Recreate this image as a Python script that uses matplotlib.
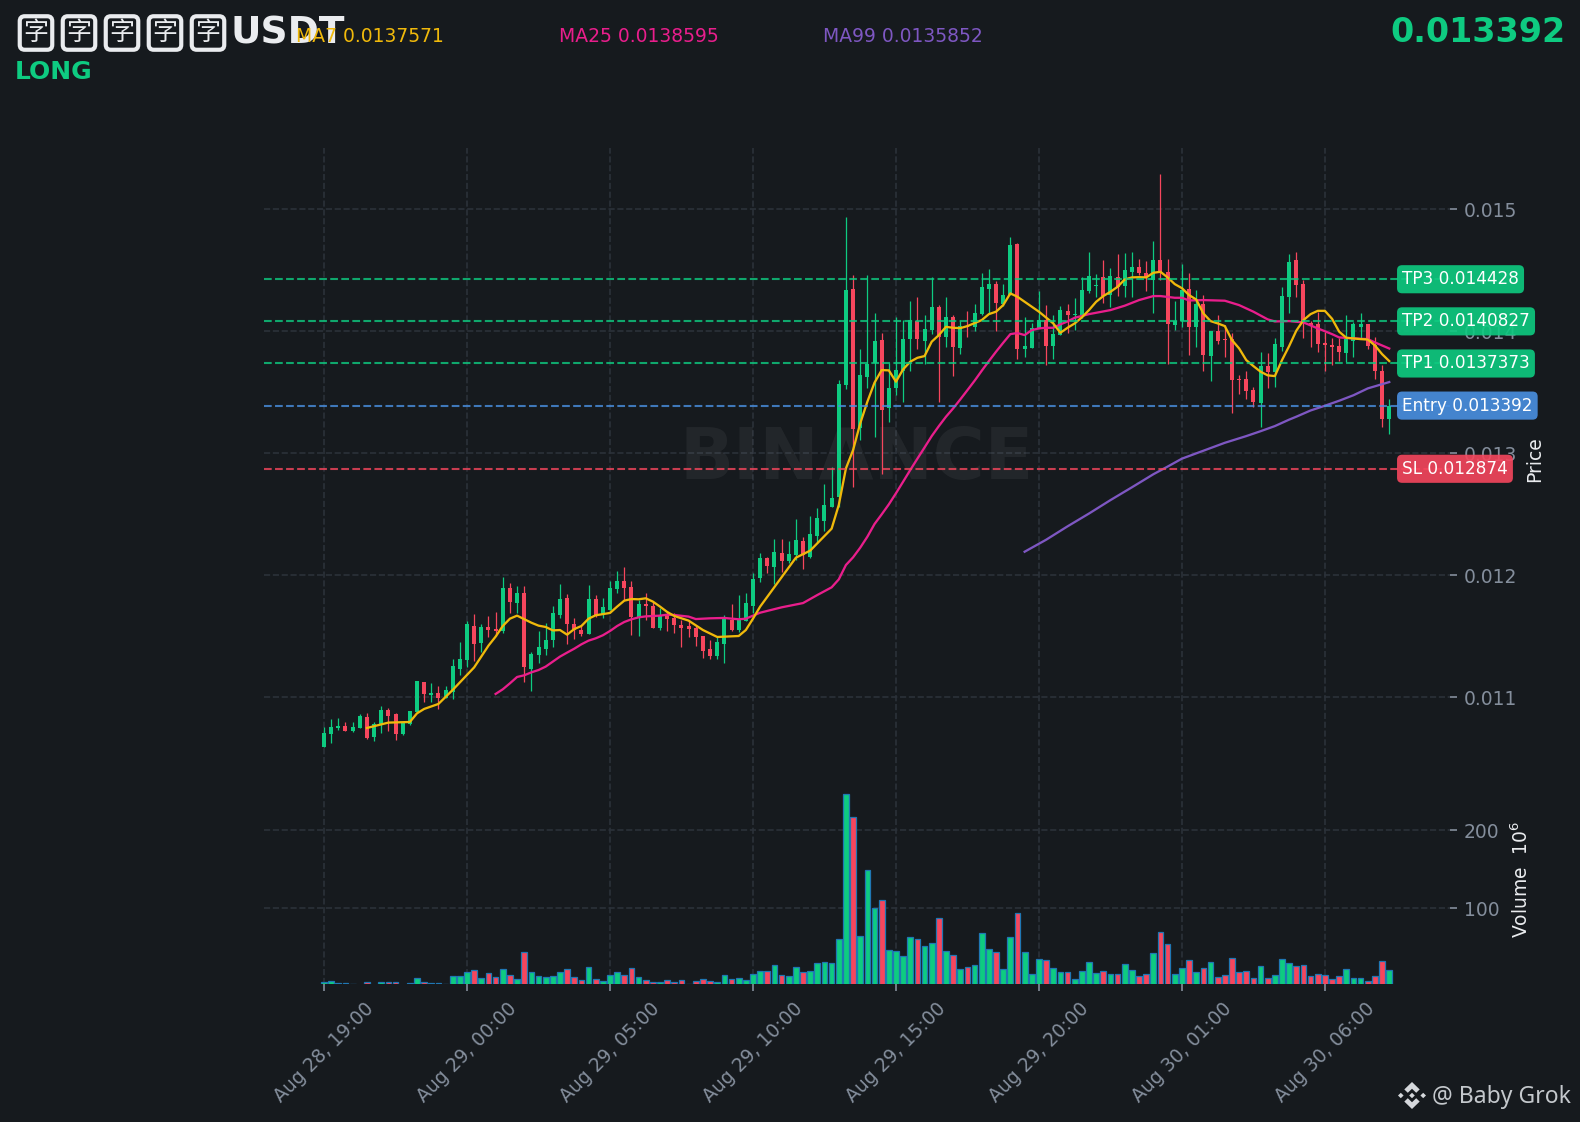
import numpy as np
import matplotlib
matplotlib.use("Agg")
import matplotlib.pyplot as plt
from matplotlib.patches import Polygon

# prices are in millionths, volume in units of 1e6
opens = [10586, 10696, 10745, 10758, 10717, 10745, 10832, 10671, 10778, 10890,
         10857, 10693, 10778, 10873, 11119, 11015, 11029, 10985, 11037, 11226,
         11299, 11578, 11439, 11570, 11553, 11537, 11890, 11767, 11849, 11223,
         11340, 11390, 11463, 11668, 11808, 11594, 11545, 11512, 11799, 11668,
         11709, 11881, 11947, 11898, 11655, 11758, 11742, 11562, 11668, 11644,
         11586, 11578, 11562, 11496, 11390, 11332, 11431, 11627, 11545, 11619,
         11742, 11971, 12132, 12064, 12173, 12113, 12157, 12272, 12146, 12318,
         12441, 12556, 12632, 13553, 14337, 13198, 13622, 13731, 13919, 13367,
         13531, 13671, 13930, 14075, 13917, 14004, 14190, 13949, 14108, 13859,
         14040, 14031, 14135, 14343, 14378, 14222, 14291, 14709, 13849, 13857,
         14018, 14083, 13873, 13966, 14160, 14124, 14113, 14327, 14362, 14436,
         14291, 14436, 14365, 14479, 14520, 14471, 14414, 14578, 14479, 14045,
         14075, 14340, 14029, 14222, 13794, 13996, 13930, 13930, 13600, 13602,
         13512, 13405, 13709, 13657, 13867, 14277, 14578, 14381, 14064, 14053,
         13898, 13878, 13873, 13818, 13917, 14029, 14053, 13878, 13668, 13277]
closes = [10701, 10750, 10758, 10717, 10750, 10840, 10660, 10775, 10890, 10840,
          10693, 10786, 10879, 11127, 11023, 11026, 10988, 11054, 11250, 11308,
          11594, 11433, 11570, 11545, 11540, 11890, 11775, 11849, 11242, 11349,
          11406, 11463, 11685, 11799, 11594, 11545, 11512, 11799, 11668, 11734,
          11890, 11947, 11890, 11652, 11758, 11745, 11562, 11660, 11635, 11586,
          11564, 11556, 11488, 11373, 11332, 11447, 11635, 11545, 11627, 11767,
          11963, 12132, 12072, 12182, 12113, 12165, 12280, 12157, 12329, 12460,
          12567, 12624, 13561, 14332, 13195, 13633, 13725, 13911, 13351, 13529,
          13674, 13928, 14083, 13933, 14010, 14190, 13944, 14108, 13867, 14034,
          14031, 14141, 14354, 14378, 14225, 14288, 14701, 13849, 13870, 14021,
          14086, 13873, 13971, 14165, 14127, 14133, 14332, 14447, 14370, 14283,
          14447, 14359, 14493, 14520, 14471, 14436, 14578, 14479, 14056, 14075,
          14332, 14029, 14222, 13799, 13996, 13914, 13925, 13594, 13594, 13504,
          13414, 13709, 13657, 13889, 14283, 14561, 14373, 14059, 14048, 13889,
          13884, 13865, 13824, 13936, 14053, 14053, 13876, 13671, 13277, 13385]
highs = [10748, 10813, 10821, 10789, 10794, 10854, 10862, 10794, 10920, 10903,
         10862, 10794, 10884, 11127, 11119, 11108, 11086, 11086, 11305, 11444,
         11619, 11674, 11592, 11660, 11693, 11977, 11931, 11903, 11903, 11368,
         11534, 11600, 11742, 11922, 11840, 11641, 11578, 11914, 11832, 11808,
         11947, 12026, 12059, 11944, 11791, 11849, 11778, 11723, 11701, 11682,
         11627, 11627, 11584, 11496, 11463, 11485, 11666, 11756, 11835, 11846,
         12015, 12173, 12141, 12288, 12288, 12277, 12457, 12310, 12482, 12548,
         12739, 12878, 13594, 14933, 14458, 13851, 14458, 14146, 13982, 13731,
         14113, 14086, 14244, 14272, 14130, 14436, 14206, 14277, 14127, 14081,
         14162, 14214, 14469, 14507, 14406, 14378, 14764, 14715, 14113, 14064,
         14326, 14212, 14130, 14198, 14217, 14264, 14436, 14641, 14460, 14578,
         14510, 14627, 14633, 14641, 14583, 14572, 14731, 15280, 14583, 14239,
         14545, 14474, 14332, 14288, 13996, 14124, 14045, 13982, 13635, 13665,
         13539, 13821, 13813, 13936, 14354, 14624, 14641, 14414, 14075, 14152,
         13991, 13936, 13941, 14124, 14070, 14146, 14053, 13944, 13720, 13436]
lows = [10586, 10622, 10726, 10717, 10712, 10739, 10655, 10638, 10704, 10720,
        10647, 10682, 10769, 10873, 10958, 10958, 10901, 10985, 10983, 11179,
        11245, 11294, 11368, 11491, 11496, 11518, 11687, 11682, 11122, 11048,
        11278, 11340, 11403, 11646, 11431, 11469, 11496, 11512, 11655, 11644,
        11709, 11846, 11791, 11504, 11496, 11627, 11562, 11545, 11537, 11523,
        11409, 11491, 11414, 11319, 11305, 11310, 11272, 11537, 11532, 11619,
        11685, 11941, 12009, 11922, 12023, 12091, 12119, 12048, 12138, 12255,
        12359, 12550, 12556, 13518, 12714, 13102, 13526, 13124, 12824, 13250,
        13471, 13414, 13665, 13851, 13723, 13971, 13411, 13867, 13630, 13805,
        13944, 13999, 14127, 14141, 13999, 14201, 14291, 13764, 13786, 13857,
        14018, 13715, 13769, 13960, 13977, 14004, 14100, 14305, 14277, 14228,
        14195, 14283, 14277, 14277, 14455, 14327, 14146, 14414, 13725, 14004,
        14031, 13799, 13867, 13671, 13589, 13889, 13780, 13321, 13479, 13441,
        13375, 13206, 13526, 13534, 13835, 14141, 14272, 13941, 13862, 13827,
        13671, 13717, 13747, 13742, 13780, 13936, 13846, 13600, 13206, 13149]
volumes = [4.7, 6.4, 3.4, 3.4, 2.6, 1.7, 5.1, 1.7, 5.1, 5.1,
           5.1, 1.7, 3.9, 10.3, 5.1, 3.9, 3.9, 2.6, 12.9, 12.9,
           18, 20.6, 10.3, 16.7, 11.6, 21.9, 14.2, 9, 43.8, 18,
           12.9, 11.6, 12.9, 18, 21.9, 11.6, 7.7, 24.5, 9, 6.4,
           14.2, 18, 14.2, 23.2, 11.6, 7.7, 5.1, 5.1, 7.7, 5.1,
           7.7, 2.6, 6.4, 9, 6.4, 5.1, 14.2, 9, 10.3, 7.7,
           15.4, 19.3, 19.3, 27, 14.2, 12.9, 24.5, 18, 19.3, 29.6,
           30.9, 29.6, 60.5, 245.8, 217, 64.4, 149, 100, 110.7, 46.3,
           45, 38.6, 63, 60.5, 51.5, 55.3, 87.5, 45, 39.9, 21.9,
           24.5, 27, 68.2, 47.6, 43.8, 21.9, 63, 94, 43.8, 15.4,
           34.7, 33.5, 23.2, 18, 18, 9, 19.3, 30.9, 16.7, 19.3,
           15.4, 15.4, 28.3, 20.6, 12.9, 15.4, 42.5, 69.5, 54, 15.4,
           23.2, 33.5, 18, 23.2, 30.9, 11.6, 14.2, 36, 18, 19.3,
           10.3, 25.7, 10.3, 14.2, 34.7, 29.6, 25.7, 27, 12.9, 15.4,
           14.2, 9, 12.9, 21.9, 10.3, 10.3, 6.4, 12.9, 32.2, 20.6]

ma7_idx = [6, 9, 12, 13, 14, 16, 18, 21, 23, 24, 25, 26, 27, 29, 30, 31, 32, 33, 34, 35,
           36, 37, 38, 40, 41, 42, 43, 44, 45, 46, 47, 48, 49, 51, 53, 55, 58, 59, 60, 61,
           66, 68, 69, 70, 71, 72, 73, 74, 75, 76, 77, 78, 79, 80, 81, 82, 83, 84, 85, 86,
           87, 88, 89, 90, 92, 93, 94, 95, 96, 97, 100, 102, 103, 104, 105, 106, 107, 108, 109, 110,
           111, 112, 113, 114, 115, 116, 117, 118, 119, 120, 121, 122, 123, 124, 125, 126, 127, 128, 129, 130,
           131, 132, 133, 134, 135, 136, 137, 138, 139, 140, 141, 142, 143, 144, 145, 146, 147, 148, 149]
ma7_val = [10742, 10786, 10791, 10862, 10898, 10939, 11054, 11239, 11417, 11491, 11578, 11638, 11663, 11605, 11581, 11570, 11542, 11545, 11507, 11553,
           11578, 11638, 11666, 11685, 11737, 11786, 11799, 11797, 11805, 11778, 11737, 11693, 11660, 11622, 11545, 11488, 11496, 11545, 11638, 11737,
           12138, 12196, 12256, 12316, 12376, 12570, 12870, 13020, 13239, 13417, 13573, 13676, 13674, 13581, 13682, 13745, 13777, 13791, 13909, 13963,
           14031, 14023, 14020, 14037, 14086, 14135, 14155, 14209, 14305, 14277, 14155, 14059, 13982, 14023, 14059, 14108, 14168, 14236, 14283, 14318,
           14359, 14419, 14436, 14438, 14436, 14474, 14482, 14436, 14381, 14348, 14291, 14255, 14141, 14078, 14059, 14037, 13922, 13854, 13758, 13709,
           13663, 13633, 13627, 13758, 13873, 13999, 14086, 14135, 14162, 14162, 14097, 13991, 13941, 13936, 13930, 13927, 13878, 13807, 13750]
ma25_idx = [24, 25, 26, 27, 28, 29, 30, 31, 32, 33, 34, 35, 36, 37, 38, 39, 40, 41, 42, 43,
            44, 45, 47, 48, 49, 51, 52, 54, 56, 58, 59, 60, 61, 64, 67, 69, 71, 72, 73, 74,
            75, 76, 77, 78, 79, 80, 81, 82, 83, 84, 85, 86, 87, 88, 89, 90, 91, 92, 93, 94,
            95, 96, 97, 98, 99, 100, 101, 102, 103, 104, 105, 107, 110, 112, 114, 116, 117, 119, 120, 121,
            123, 126, 128, 130, 132, 133, 135, 137, 139, 141, 142, 144, 146, 147, 149]
ma25_val = [11021, 11059, 11108, 11160, 11174, 11198, 11217, 11245, 11286, 11327, 11360, 11392, 11428, 11458, 11477, 11502, 11537, 11578, 11611, 11633,
            11649, 11657, 11663, 11671, 11668, 11655, 11635, 11641, 11644, 11633, 11638, 11663, 11687, 11731, 11766, 11832, 11895, 11960, 12078, 12141,
            12220, 12310, 12414, 12493, 12575, 12666, 12761, 12857, 12950, 13042, 13135, 13217, 13294, 13362, 13436, 13512, 13589, 13671, 13750, 13827,
            13900, 13971, 13980, 13963, 14004, 14018, 14023, 14023, 14051, 14075, 14105, 14135, 14168, 14204, 14250, 14283, 14283, 14269, 14269, 14247,
            14250, 14245, 14209, 14155, 14092, 14075, 14078, 14067, 14018, 13971, 13944, 13936, 13930, 13903, 13853]
ma99_idx = [98, 101, 104, 107, 110, 113, 116, 118, 120, 123, 126, 129, 131, 133, 135, 136, 138, 140, 142, 144, 146, 149]
ma99_val = [12187, 12285, 12395, 12500, 12610, 12715, 12822, 12885, 12950, 13015, 13080, 13135, 13175, 13217, 13270, 13294, 13345, 13384, 13425, 13470, 13526, 13578]

# the readings above came out a little low against the known level lines
READ_OFFSET = 7

level_names = ["TP3", "TP2", "TP1", "Entry", "SL"]
level_texts = ["0.014428", "0.0140827", "0.0137373", "0.013392", "0.012874"]
level_prices = [0.014428, 0.0140827, 0.0137373, 0.013392, 0.012874]
level_colors = ["#0ecb81", "#0ecb81", "#0ecb81", "#4a90e2", "#f6465d"]

price_ticks = [0.011, 0.012, 0.013, 0.014, 0.015]
volume_ticks = [100, 200]
time_pos = [0, 20, 40, 60, 80, 100, 120, 140]
time_labels = ["Aug 28, 19:00", "Aug 29, 00:00", "Aug 29, 05:00", "Aug 29, 10:00",
               "Aug 29, 15:00", "Aug 29, 20:00", "Aug 30, 01:00", "Aug 30, 06:00"]

BG = "#161a1e"
GREEN = "#0ecb81"
RED = "#f6465d"
GRID = "#2b3139"
GRAY = "#848e9c"
LIGHT = "#eaecef"

W, H = 1581, 1122


def fx(px):
    return px / W


def fy(py):
    return 1 - py / H


def to_price(vals):
    return (np.array(vals) + READ_OFFSET) * 1e-6


fig = plt.figure(figsize=(W / 150, H / 150), dpi=150, facecolor=BG)
ax = fig.add_axes([fx(264), fy(772), fx(1450 - 264), (772 - 148) / H])
ax_vol = fig.add_axes([fx(264), fy(984), fx(1450 - 264), (984 - 772) / H], sharex=ax)

o = to_price(opens)
c = to_price(closes)
h = to_price(highs)
l = to_price(lows)
x = np.arange(len(o))
colors = [GREEN if cl >= op else RED for op, cl in zip(o, c)]

ax.vlines(x, l, h, colors=colors, linewidth=0.6, zorder=3)
ax.bar(x, np.abs(c - o), bottom=np.minimum(o, c), width=0.56, color=colors, linewidth=0, zorder=3)

ax.plot(ma25_idx, to_price(ma25_val), color="#e91e8c", lw=1.1, zorder=4)
ax.plot(ma99_idx, to_price(ma99_val), color="#7e57c2", lw=1.1, zorder=4)
ax.plot(ma7_idx, to_price(ma7_val), color="#f0b90b", lw=1.1, zorder=4)

for name, txt, price, col in zip(level_names, level_texts, level_prices, level_colors):
    ax.axhline(price, color=col, ls="--", lw=1.0, alpha=0.8, zorder=5)
    ax.text(150.8, price, name + " " + txt, color="white", fontsize=8.1, va="center", ha="left", zorder=7,
            bbox=dict(boxstyle="round,pad=0.3", fc=col, ec="none", alpha=0.9))

ax.text(0.5, 0.5, "BINANCE", transform=ax.transAxes, color="white", alpha=0.055, fontsize=34,
        fontweight="bold", ha="center", va="center", zorder=1)

ax_vol.bar(x, volumes, width=0.8, color=colors, edgecolor="#1f77b4", linewidth=0.6, zorder=3)

ax.set_xlim(-8.4, 157.5)
ax.set_ylim(0.010388, 0.015504)
ax_vol.set_ylim(2.5, 274.6)

for a in (ax, ax_vol):
    a.set_facecolor(BG)
    for s in a.spines.values():
        s.set_visible(False)
    a.grid(True, color=GRID, ls="--", lw=0.8, zorder=0)
    a.set_axisbelow(True)
    a.yaxis.tick_right()
    a.tick_params(axis="y", colors=GRAY, labelsize=9, length=3.5, width=0.8, pad=3)

ax.set_yticks(price_ticks)
ax.set_yticklabels(["%.3f" % t for t in price_ticks])
ax_vol.set_yticks(volume_ticks)
ax_vol.set_xticks(time_pos)
ax.tick_params(axis="x", length=0, labelbottom=False)
ax_vol.tick_params(axis="x", colors=GRAY, labelsize=9, length=3.5, width=0.8)
ax_vol.set_xticklabels(time_labels, rotation=45, ha="center")

fig.text(fx(1535), fy(459.5), "Price", color=LIGHT, fontsize=9, rotation=90, ha="center", va="center")
fig.text(fx(1521), fy(880), "Volume  $10^{6}$", color=LIGHT, fontsize=9, rotation=90, ha="center", va="center")

# header
for k in range(5):
    fig.text(fx(36 + 43 * k), fy(33), "字", family=["Noto Sans CJK SC", "DejaVu Sans"], color=LIGHT,
             fontsize=12, ha="center", va="center",
             bbox=dict(boxstyle="round,pad=0.15,rounding_size=0.2", fc="#161a1e", ec=LIGHT, lw=2))
fig.text(fx(231), fy(43), "USDT", color=LIGHT, fontsize=18, fontweight="bold", ha="left", va="baseline")
fig.text(fx(15), fy(79), "LONG", color=GREEN, fontsize=12, fontweight="bold", ha="left", va="baseline")
fig.text(fx(296), fy(37), "MA7 0.0137571", color="#f0b90b", fontsize=9, ha="left", va="center")
fig.text(fx(559.5), fy(37), "MA25 0.0138595", color="#e91e8c", fontsize=9, ha="left", va="center")
fig.text(fx(823.5), fy(37), "MA99 0.0135852", color="#7e57c2", fontsize=9, ha="left", va="center")
fig.text(fx(1566), fy(33), "0.013392", color=GREEN, fontsize=16, fontweight="bold", ha="right", va="center")

# footer logo + handle
logo = fig.add_axes([fx(1398), fy(1109), fx(28), 27 / H])
logo.set_xlim(-1, 1)
logo.set_ylim(-1, 1)
logo.axis("off")
logo_col = "#d5d8dc"
top = [(0, 1), (.55, .45), (.3, .2), (0, .5), (-.3, .2), (-.55, .45)]
logo.add_patch(Polygon(top, color=logo_col, lw=0))
logo.add_patch(Polygon([(a, -b) for a, b in top], color=logo_col, lw=0))
for cx in (-.8, 0, .8):
    logo.add_patch(Polygon([(cx - .2, 0), (cx, .2), (cx + .2, 0), (cx, -.2)], color=logo_col, lw=0))
fig.text(fx(1432), fy(1097), "@ Baby Grok", color="#c4c8cc", family="Noto Sans", fontsize=11, ha="left", va="center")

fig.savefig("out.png", dpi=150, facecolor=BG)
